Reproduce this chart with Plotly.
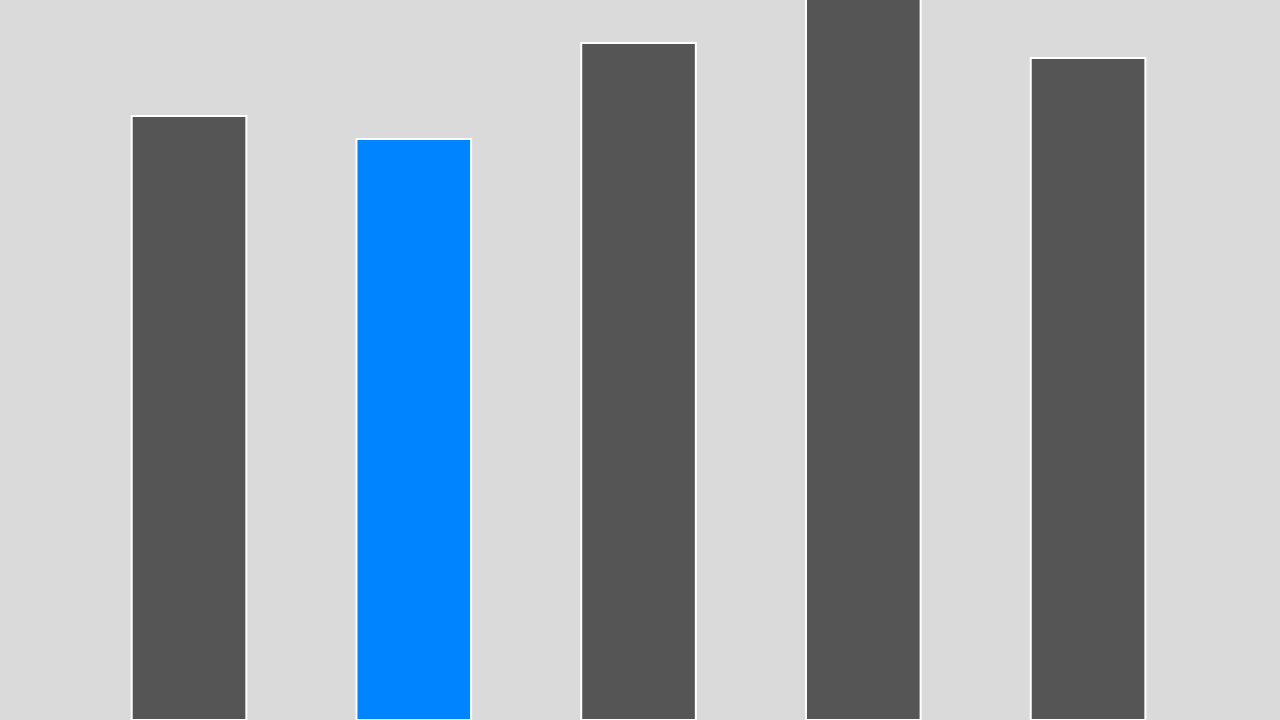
import plotly.graph_objects as go

categories = ['A', 'B', 'C', 'D', 'E']
values = [60.4, 58.1, 67.7, 73.0, 66.2]
colors = ['#555555', '#0084ff', '#555555', '#555555', '#555555']

fig = go.Figure(go.Bar(
    x=categories, y=values,
    marker=dict(color=colors, line=dict(color='white', width=2)),
    width=0.51,
))
fig.update_layout(
    width=1280, height=720,
    margin=dict(l=0, r=0, t=0, b=0),
    paper_bgcolor='#dadada', plot_bgcolor='#dadada',
    showlegend=False,
    xaxis=dict(visible=False, range=[-0.841, 4.854]),
    yaxis=dict(visible=False, range=[0, 72]),
)
# drop the page's default body margin so the chart fills the window
fig.write_html("out.html", config={'displayModeBar': False},
               post_script="document.body.style.margin='0';document.body.style.overflow='hidden';")
